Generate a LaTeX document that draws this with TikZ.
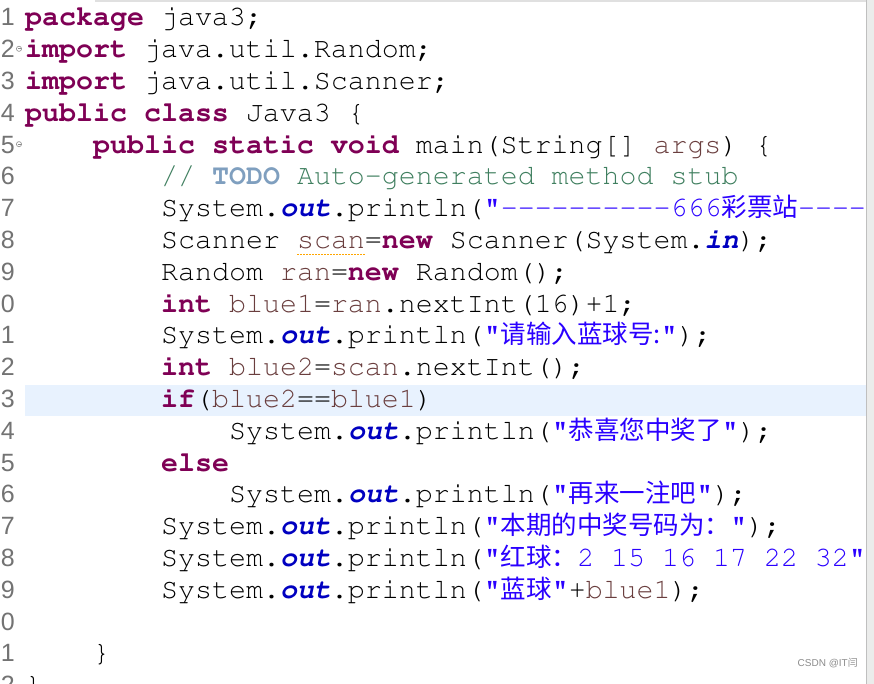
\documentclass[tikz,border=0pt]{standalone}
\usepackage{fontspec}
\setsansfont{Liberation Sans}
\newfontfamily\cjkf{Noto Sans CJK SC}
\definecolor{kw}{RGB}{127,0,85}
\definecolor{strc}{RGB}{42,0,255}
\definecolor{fld}{RGB}{0,0,192}
\definecolor{varc}{RGB}{106,62,62}
\definecolor{cmt}{RGB}{63,127,95}
\definecolor{todo}{RGB}{127,159,191}
\definecolor{hl}{RGB}{232,242,254}
\newcommand\K[1]{{\color{kw}\bfseries #1}}
\newcommand\St[1]{{\color{strc}#1}}
\newcommand\F[1]{{\color{fld}\bfseries\itshape #1}}
\newcommand\V[1]{{\color{varc}#1}}
\newcommand\cj[1]{{\cjkf\fontsize{25.5}{30}\selectfont #1}}
\newcommand\cour{\fontencoding{T1}\fontfamily{pcr}\fontsize{28.3}{32}\selectfont}
\newcommand\dsh{-{}}
\tikzset{code/.style={anchor=base west,inner sep=0pt,font=\cour},
num/.style={anchor=base east,inner sep=0pt,text=black!55,font=\sffamily\fontsize{25}{30}\selectfont}}
\newcommand\Y[1]{(658-(#1-1)*31.8)}
\begin{document}
\begin{tikzpicture}[x=1pt,y=1pt]
\useasboundingbox (0,0) rectangle (874,684);
\fill[white] (0,0) rectangle (874,684);
\fill[hl] (25,268) rectangle (866,299);
\fill[black!12] (95,682) rectangle (866,684);
\fill[green!6!black!8] (866,0) rectangle (874,684);
\draw[black!25] (866,0) -- (866,684);
\begin{scope}
\clip (0,0) rectangle (865,684);
\foreach \i/\d in {1/1,2/2,3/3,4/4,5/5,6/6,7/7,8/8,9/9,10/0,11/1,12/2,13/3,14/4,15/5,16/6,17/7,18/8,19/9,20/0,21/1,22/2}
  \node[num] (n\i) at (15,{\Y{\i}}) {\d};
\foreach \i in {2,5}{\draw[black!45,line width=0.6] (19,{\Y{\i}+9}) circle (2.6);
  \draw[black!45,line width=0.6] (17.5,{\Y{\i}+9}) -- (20.5,{\Y{\i}+9});}
\node[code] (l1) at (25,{\Y{1}}) {\K{package} java3;};
\node[code] (l2) at (25,{\Y{2}}) {\K{import} java.util.Random;};
\node[code] (l3) at (25,{\Y{3}}) {\K{import} java.util.Scanner;};
\node[code] (l4) at (25,{\Y{4}}) {\K{public} \K{class} Java3 \{};
\node[code] (l5) at (93,{\Y{5}}) {\K{public} \K{static} \K{void} main(String[] \V{args}) \{};
\node[code] (l6) at (161,{\Y{6}}) {{\color{cmt}/{}/ {\color{todo}\bfseries TODO} Auto\dsh generated method stub}};
\node[code] (l7) at (161,{\Y{7}}) {System.\F{out}.println(\St{"\dsh\dsh\dsh\dsh\dsh\dsh\dsh\dsh\dsh\dsh 666\cj{彩票站}\dsh\dsh\dsh\dsh\dsh}};
\node[code] (l8) at (161,{\Y{8}}) {Scanner \V{scan}=\K{new} Scanner(System.\F{in});};
\draw[orange!70!yellow,line width=0.8,dash pattern=on 2pt off 1pt] (l8.base west) ++(136,-6) -- ++(68,0);
\node[code] (l9) at (161,{\Y{9}}) {Random \V{ran}=\K{new} Random();};
\node[code] (l10) at (161,{\Y{10}}) {\K{int} \V{blue1}=\V{ran}.nextInt(16)+1;};
\node[code] (l11) at (161,{\Y{11}}) {System.\F{out}.println(\St{"\cj{请输入蓝球号:}"});};
\node[code] (l12) at (161,{\Y{12}}) {\K{int} \V{blue2}=\V{scan}.nextInt();};
\node[code] (l13) at (161,{\Y{13}}) {\K{if}(\V{blue2}==\V{blue1})};
\node[code] (l14) at (229,{\Y{14}}) {System.\F{out}.println(\St{"\cj{恭喜您中奖了}"});};
\node[code] (l15) at (161,{\Y{15}}) {\K{else}};
\node[code] (l16) at (229,{\Y{16}}) {System.\F{out}.println(\St{"\cj{再来一注吧}"});};
\node[code] (l17) at (161,{\Y{17}}) {System.\F{out}.println(\St{"\cj{本期的中奖号码为：}"});};
\node[code] (l18) at (161,{\Y{18}}) {System.\F{out}.println(\St{"\cj{红球：}2 15 16 17 22 32"});};
\node[code] (l19) at (161,{\Y{19}}) {System.\F{out}.println(\St{"\cj{蓝球}"}+\V{blue1});};
\node[code] (l21) at (93,{\Y{21}}) {\}};
\node[code] (l22) at (25,{\Y{22}}) {\}};
\end{scope}
\node[anchor=base east,inner sep=0pt,text=black!45,font=\sffamily\fontsize{10}{12}\selectfont] (wm) at (858,17) {CSDN @IT{\cjkf 闫}};
\end{tikzpicture}
\end{document}
